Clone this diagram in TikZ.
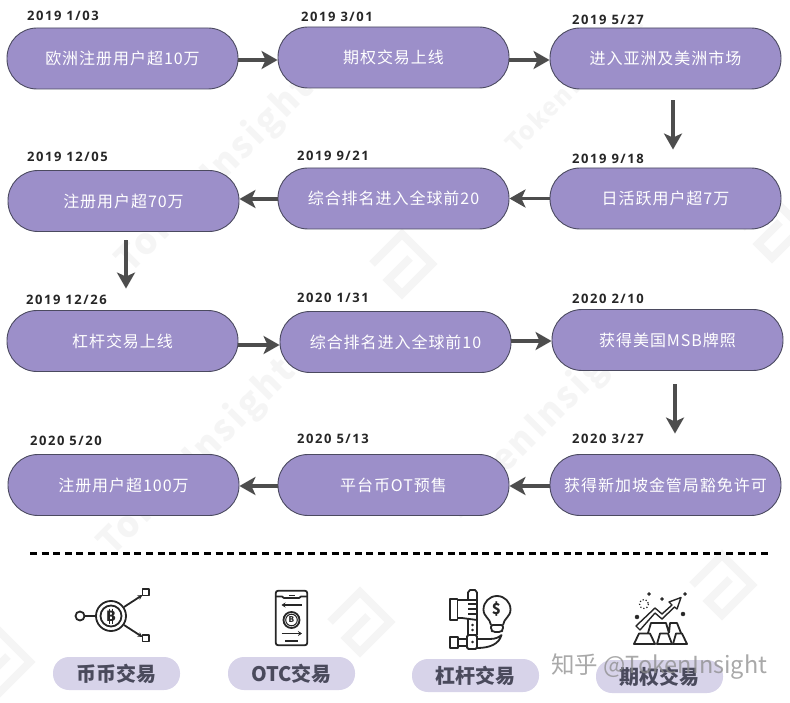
\documentclass[tikz,border=0pt]{standalone}
\usepackage{fontspec}
\setmainfont{Noto Sans CJK SC}[LetterSpace=6]
\newfontfamily\datefont{Open Sans}[LetterSpace=12]
\newfontfamily\pillfont{Noto Sans CJK SC}
\usetikzlibrary{arrows.meta}
\definecolor{boxfill}{HTML}{9C8FC9}
\definecolor{boxline}{HTML}{4B4A60}
\definecolor{flowgray}{HTML}{4D4D4D}
\definecolor{pillfill}{HTML}{D7D3E9}
\definecolor{pilltext}{HTML}{4A4A5C}
\definecolor{markgray}{HTML}{F5F5F5}
\tikzset{
  event/.style={draw=boxline, line width=0.9pt, fill=boxfill, rounded corners=30pt, minimum width=231pt, minimum height=61pt, inner sep=0pt, text=white, font=\fontsize{16}{16}\selectfont},
  datelabel/.style={anchor=west, inner sep=0pt, text=black!85, font=\datefont\fontsize{13}{13}\selectfont\bfseries},
  flow/.style={draw=flowgray, line width=3.4pt, -{Stealth[length=16pt,width=18pt,inset=4pt]}},
  pill/.style={fill=pillfill, rounded corners=16pt, minimum width=127pt, minimum height=33pt, inner sep=0pt, text=pilltext, font=\pillfont\fontsize{20}{20}\selectfont\bfseries},
  icon/.style={line width=1.8pt, black!85, line join=round},
  wmtext/.style={text=markgray, rotate=45, font=\fontsize{36}{36}\selectfont\bfseries},
  wmline/.style={draw=markgray, line width=8pt}
}
\newcommand{\logomark}[2]{\draw[wmline,shift={(#1,#2)}] (-30,0) -- (0,-30) -- (30,0) -- (0,30) -- (-14,16) -- (8,-6);}
\begin{document}
\begin{tikzpicture}[x=1pt,y=-1pt]
  \useasboundingbox (0,0) rectangle (790,703);

  % faint marks behind everything
  \node[wmtext] (wmA) at (215,175) {TokenInsight};
  \node[wmtext] (wmB) at (197,458) {TokenInsight};
  \node[wmtext] (wmC) at (540,425) {TokenInsight};
  \node[wmtext, font=\fontsize{25}{25}\selectfont\bfseries] (wmD) at (575,85) {TokenInsight};
  \logomark{402}{264}
  \logomark{360}{622}
  \logomark{722}{585}
  \logomark{772}{228}
  \logomark{0}{662}

  % first row
  \node[event] (jan) at (122.5,58.5) {欧洲注册用户超10万};
  \node[event] (mar) at (393.5,57.5) {\raisebox{-1pt}{期权交易上线}};
  \node[event] (may) at (665.5,58.5) {进入亚洲及美洲市场};
  \node[datelabel] (janD) at (27,16) {2019 1/03};
  \node[datelabel] (marD) at (301,17) {2019 3/01};
  \node[datelabel] (mayD) at (572,20) {2019 5/27};

  % second row
  \node[event] (dec) at (123.5,201) {注册用户超70万};
  \node[event] (sepB) at (393.5,198.5) {综合排名进入全球前20};
  \node[event] (sepA) at (665.5,198.5) {日活跃用户超7万};
  \node[datelabel] (decD) at (27,157) {2019 12/05};
  \node[datelabel] (sepBD) at (297,156) {2019 9/21};
  \node[datelabel] (sepAD) at (572,159) {2019 9/18};

  % third row
  \node[event] (lev) at (122.5,341) {杠杆交易上线};
  \node[event] (top) at (395.5,342) {综合排名进入全球前10};
  \node[event] (msb) at (667.5,340) {获得美国MSB牌照};
  \node[datelabel] (levD) at (26,300) {2019 12/26};
  \node[datelabel] (topD) at (297,298) {2020 1/31};
  \node[datelabel] (msbD) at (572,299) {2020 2/10};

  % fourth row
  \node[event] (mil) at (123.5,485) {注册用户超100万};
  \node[event] (ot) at (393.5,485) {平台币OT预售};
  \node[event] (sgp) at (665.5,485) {获得新加坡金管局豁免许可};
  \node[datelabel] (milD) at (30,441) {2020 5/20};
  \node[datelabel] (otD) at (297,439) {2020 5/13};
  \node[datelabel] (sgpD) at (572,439) {2020 3/27};

  % arrows
  \draw[flow] ([yshift=-1.5pt]jan.east) -- ([yshift=-2.5pt]mar.west);
  \draw[flow] ([yshift=-2.5pt]mar.east) -- ([yshift=-1.5pt]may.west);
  \draw[flow] ([xshift=7.5pt,yshift=-11pt]may.south) -- ([xshift=7.5pt,yshift=18pt]sepA.north);
  \draw[flow] (sepA.west) -- (sepB.east);
  \draw[flow] ([yshift=-0.5pt]sepB.west) -- ([yshift=2pt]dec.east);
  \draw[flow] ([xshift=2.5pt,yshift=-8.5pt]dec.south) -- ([xshift=3.5pt,yshift=21.5pt]lev.north);
  \draw[flow] ([yshift=-4pt]lev.east) -- ([yshift=-3pt]top.west);
  \draw[flow] ([yshift=1pt]top.east) -- ([yshift=-1pt]msb.west);
  \draw[flow] ([xshift=7.5pt,yshift=-13.5pt]msb.south) -- ([xshift=9.5pt,yshift=20.5pt]sgp.north);
  \draw[flow] ([yshift=-1pt]sgp.west) -- ([yshift=-1pt]ot.east);
  \draw[flow] ([yshift=-1pt]ot.west) -- ([yshift=-1pt]mil.east);

  % divider
  \draw[line width=3pt, dash pattern=on 7pt off 4.6pt] (30,553) -- (770,553);

  % spot icon
  \draw[icon] (111,616) circle (15);
  \draw[icon] (111,616) circle (10.5);
  \node[inner sep=0pt, font=\pillfont\fontsize{14}{14}\selectfont\bfseries, black!85] (spotB) at (111,616) {B};
  \draw[icon, line width=1pt] (109.5,608.5) -- (109.5,623.5) (112.5,608.5) -- (112.5,623.5);
  \draw[icon] (80,616) circle (4.5);
  \draw[icon] (84.5,616) -- (96,616);
  \draw[icon] (142.5,589) rectangle (149,595.5);
  \draw[icon] (142.5,635) rectangle (149,641.5);
  \draw[icon, -{Stealth[length=5pt,width=5pt]}] (124,607) -- (142.5,595);
  \draw[icon, -{Stealth[length=5pt,width=5pt]}] (124,625) -- (142.5,637);

  % phone icon
  \draw[icon, rounded corners=2.5pt] (275.7,590.7) rectangle (307.3,645.3);
  \draw[icon] (275.7,596.5) -- (282,596.5) -- (284,598) -- (299,598) -- (301,596.5) -- (307.3,596.5);
  \draw[icon, line width=1pt] (289,595) -- (295,595);
  \draw[icon] (291.5,620) circle (8);
  \draw[icon, line width=1pt] (291.5,620) circle (5.8);
  \node[inner sep=0pt, font=\pillfont\fontsize{8}{8}\selectfont\bfseries, black!85] (phoneB) at (291.5,620) {B};
  \draw[icon, -{Stealth[length=4pt,width=5pt]}] (302,605) -- (281.5,605);
  \draw[icon, -{Stealth[length=4pt,width=5pt]}] (281.5,633.5) -- (302,633.5);
  \draw[icon] (285,641) -- (298,641);

  % leverage icon
  \draw[icon] (468,600) -- (468,592.5) -- (470,590) -- (475,590) -- (477,592.5) -- (477,635);
  \draw[icon] (468,619) -- (468,635);
  \draw[icon] (450,599) rectangle (457.5,620);
  \draw[icon] (457.5,600) -- (477,600) (457.5,618) -- (462,618) -- (477,620);
  \draw[icon] (468,604) -- (477,604) (468,609) -- (477,609) (468,614) -- (477,614);
  \draw[icon] (450,637) rectangle (458,648);
  \draw[icon] (458,639) -- (467,639) (458,646) -- (467,646);
  \draw[icon, rounded corners=1.5pt] (467,635) rectangle (477,649);
  \draw[icon] (477,639) -- (490,639) .. controls (496,639) and (499,637) .. (501.5,635) .. controls (499,644) and (490,648) .. (477,648);
  \filldraw[black!85] (472.5,625) circle (1pt);
  \filldraw[black!85] (472.5,630) circle (1pt);
  \filldraw[black!85] (472.5,642) circle (1pt);
  \draw[icon] (491,625) .. controls (490,618) and (483.5,617) .. (483.5,609.5) arc (180:360:13.5) .. controls (510.5,617) and (504,618) .. (503,625);
  \draw[icon, rounded corners=2pt] (491,625) -- (503,625) -- (503,630) -- (501,632) -- (493,632) -- (491,630) -- cycle;
  \node[inner sep=0pt, font=\pillfont\fontsize{15}{15}\selectfont\bfseries, black!85] (bulbS) at (496.5,609.5) {\$};

  % options icon
  \draw[icon] (634,644) -- (639,633.5) -- (650,633.5) -- (655,644) -- cycle;
  \draw[icon] (657,644) -- (660,633.5) -- (668,633.5) -- (672,644) -- cycle;
  \draw[icon] (673,644) -- (676,633.5) -- (682,633.5) -- (687,644) -- cycle;
  \draw[icon] (648,633) -- (651,623) -- (666,623) -- (669,633) (669,633) -- (670,623) -- (677,623) -- (681,633);
  \draw[icon, line width=1.4pt] (636,626) -- (655,608) -- (662,614) -- (672,605) -- (669,602) -- (681,597.5) -- (677,609) -- (674.5,607) -- (662,619) -- (655,613) -- (640,630) -- cycle;
  \filldraw[black!85] (649,594) circle (1.5);
  \filldraw[black!85] (685,594) circle (1.5);
  \filldraw[black!85] (662,599) circle (1.5);
  \filldraw[black!85] (683,614) circle (2);
  \filldraw[black!85] (637,617) circle (2);
  \draw[black!85, line width=1.2pt, dotted] (644,604) circle (4.5);

  % labels under the icons
  \node[pill] (spot) at (116.5,673.5) {币币交易};
  \node[pill] (otc) at (291.5,673.5) {OTC交易};
  \node[pill] (lever) at (475.5,675.5) {杠杆交易};
  \node[pill] (opt) at (659.5,676.5) {期权交易};

  % site mark
  \node[inner sep=0pt, anchor=west, text=black!45, opacity=0.75, font=\pillfont\fontsize{23.5}{24}\selectfont] (site) at (551,667) {知乎 @TokenInsight};
\end{tikzpicture}
\end{document}
